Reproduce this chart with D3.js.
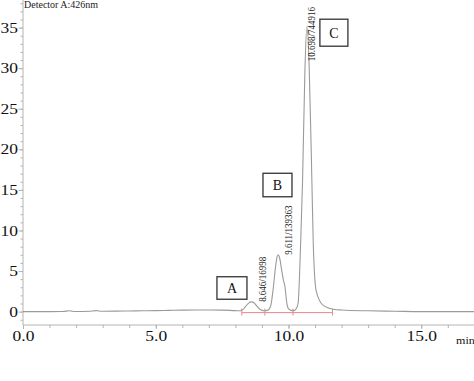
<!DOCTYPE html>
<html>
<head>
<meta charset="utf-8">
<script src="https://cdn.jsdelivr.net/npm/d3@7"></script>
<style>
  body { margin: 0; background: #fff; }
  svg { display: block; }
  text { font-family: "Liberation Serif", "Times New Roman", serif; }
</style>
</head>
<body>
<script>
var w = 474;
var h = 381;

// chromatogram trace (min, signal)
var times = [0, 0.5, 1.0, 1.5, 1.75, 1.85, 2.0, 2.5, 2.75, 2.85, 3.0, 3.5, 4.0, 4.5, 5.0, 5.5, 6.0, 6.5, 7.0, 7.5, 8.0,
    8.2, 8.3, 8.4, 8.5, 8.6, 8.7, 8.8, 8.9, 9.0, 9.1,
    9.2, 9.32, 9.43, 9.5, 9.56, 9.611, 9.66, 9.73, 9.8, 9.87, 9.93, 9.99, 10.1, 10.2,
    10.28, 10.36, 10.46, 10.53, 10.62, 10.698, 10.78, 10.88, 10.93, 11.04, 11.3, 11.68,
    12.0, 13.0, 14.0, 15.0, 16.0, 17.0];
var signal = [0, 0, 0, 0.02, 0.1, 0.05, 0.02, 0.05, 0.12, 0.08, 0.05, 0.06, 0.08, 0.1, 0.12, 0.15, 0.18, 0.2, 0.2, 0.18, 0.12,
    0.1, 0.3, 0.7, 1.05, 1.2, 1.1, 0.7, 0.35, 0.15, 0.1,
    0.15, 0.6, 3.0, 5.2, 6.6, 7.0, 6.7, 5.4, 4.0, 3.0, 1.2, 0.4, 0.15, 0.12,
    0.3, 1.0, 8.7, 16.2, 30, 35.2, 30, 16.2, 8.7, 2.6, 0.8, 0.3,
    0.2, 0.1, 0.05, 0, 0, 0];

// peaks
var peakTimes = [8.646, 9.611, 10.698];
var peakHeights = [1.2, 7.0, 35.2];
var peakAreas = [16998, 139363, 744916];
var peakNames = ["A", "B", "C"];
// where the boxed letters sit (min, signal)
var boxTimes = [7.87, 9.585, 11.71];
var boxValues = [2.91, 15.6, 34.37];

// integration baseline marks
var cutTimes = [8.24, 9.11, 10.17, 11.66];
var cutValues = [0.0, 0.0, 0.0, 0.0];

var xTicks = [0, 5, 10, 15];
var xTickLabels = ["0.0", "5.0", "10.0", "15.0"];
var yTicks = [0, 5, 10, 15, 20, 25, 30, 35];

var trace = times.map((t, i) => ({ t: t, v: signal[i] }));

var xScale = d3.scaleLinear()
    .domain([0, 17])
    .range([23, 23 + 17 * 26.55]);

var yScale = d3.scaleLinear()
    .domain([-1.65, 38.4])
    .range([325, 0]);

var svg = d3.select("body")
    .append("svg")
    .attr("width", w)
    .attr("height", h);

var axisColor = "#b4b4b4";

// y axis: minor ticks every 1, major every 5
svg.append("g")
    .attr("transform", "translate(23,0)")
    .call(d3.axisLeft(yScale).tickValues(d3.range(-1, 39)).tickSize(2.5).tickFormat(""))
    .call(g => g.select(".domain").remove())
    .selectAll("line").attr("stroke", axisColor);

var yAxis = svg.append("g")
    .attr("transform", "translate(23,0)")
    .call(d3.axisLeft(yScale).tickValues(yTicks).tickSize(4.5).tickPadding(5));
yAxis.select(".domain").remove();
yAxis.selectAll("line").attr("stroke", axisColor);
yAxis.selectAll("text")
    .attr("fill", "#111")
    .style("font-size", "14px")
    .attr("x", -5 / 1.25)
    .attr("dy", "0.33em")
    .attr("transform", "scale(1.25,1)");

svg.append("line")
    .attr("x1", 23).attr("x2", 23)
    .attr("y1", 0).attr("y2", 325)
    .attr("stroke", axisColor);

// x axis
svg.append("g")
    .attr("transform", "translate(0,325)")
    .call(d3.axisBottom(xScale).tickValues(d3.range(0, 18)).tickSize(3).tickFormat(""))
    .call(g => g.select(".domain").remove())
    .selectAll("line").attr("stroke", axisColor);

var xAxis = svg.append("g")
    .attr("transform", "translate(0,325)")
    .call(d3.axisBottom(xScale).tickValues(xTicks).tickSize(4).tickFormat((d, i) => xTickLabels[i]));
xAxis.select(".domain").remove();
xAxis.selectAll("line").attr("stroke", axisColor);
xAxis.selectAll("text")
    .attr("fill", "#111")
    .style("font-size", "14px")
    .attr("y", 16.5)
    .attr("dy", 0)
    .attr("x", 0)
    .attr("transform", "scale(1.25,1)");

svg.append("line")
    .attr("x1", 23).attr("x2", w)
    .attr("y1", 325).attr("y2", 325)
    .attr("stroke", axisColor);

svg.append("text")
    .attr("transform", "translate(456,343.5) scale(1.15,1)")
    .style("font-size", "10.5px")
    .attr("fill", "#111")
    .text("min");

svg.append("text")
    .attr("x", 24)
    .attr("y", 7.5)
    .style("font-size", "10px")
    .attr("fill", "#222")
    .text("Detector A:426nm");

// integration baseline (red)
var cuts = cutTimes.map((t, i) => ({ t: t, v: cutValues[i] }));
svg.append("path")
    .datum(cuts)
    .attr("fill", "none")
    .attr("stroke", "#e58a8a")
    .attr("stroke-width", 1)
    .attr("d", d3.line().x(d => xScale(d.t)).y(d => yScale(d.v) + 1));

svg.selectAll(".cut")
    .data(cuts)
    .enter()
    .append("line")
    .attr("class", "cut")
    .attr("x1", d => xScale(d.t))
    .attr("x2", d => xScale(d.t))
    .attr("y1", d => yScale(d.v) - 3)
    .attr("y2", d => yScale(d.v) + 4)
    .attr("stroke", "#e58a8a");

// trace
svg.append("path")
    .datum(trace)
    .attr("fill", "none")
    .attr("stroke", "#9a9a9a")
    .attr("stroke-width", 1.1)
    .attr("d", d3.line().curve(d3.curveMonotoneX).x(d => xScale(d.t)).y(d => yScale(d.v)));

// peak labels, rotated
var labelShift = [10, 10, 4.5];
var labels = svg.selectAll(".plabel")
    .data(peakTimes)
    .enter()
    .append("text")
    .attr("class", "plabel")
    .style("font-size", "10px")
    .attr("fill", "#222")
    .attr("dy", "0.35em")
    .text((d, i) => d.toFixed(3) + "/" + peakAreas[i]);

labels.each(function (d, i) {
    var len = this.getComputedTextLength() * 0.9;
    var px = xScale(d) + labelShift[i];
    var py = Math.max(yScale(peakHeights[i]), 7 + len);
    d3.select(this).attr("transform", `translate(${px},${py}) rotate(-90) scale(0.9,1)`);
});

// boxed letters
var boxW = [30, 29, 28];
var boxH = [22.5, 23.5, 27];
var boxes = svg.selectAll(".box")
    .data(peakNames)
    .enter()
    .append("g")
    .attr("class", "box")
    .attr("transform", (d, i) => `translate(${xScale(boxTimes[i])},${yScale(boxValues[i])})`);

boxes.append("rect")
    .attr("x", (d, i) => -boxW[i] / 2)
    .attr("y", (d, i) => -boxH[i] / 2)
    .attr("width", (d, i) => boxW[i])
    .attr("height", (d, i) => boxH[i])
    .attr("fill", "#fff")
    .attr("stroke", "#333")
    .attr("stroke-width", 1.3);

boxes.append("text")
    .attr("text-anchor", "middle")
    .attr("dy", "0.35em")
    .style("font-size", "14px")
    .attr("fill", "#111")
    .text(d => d);
</script>
</body>
</html>
